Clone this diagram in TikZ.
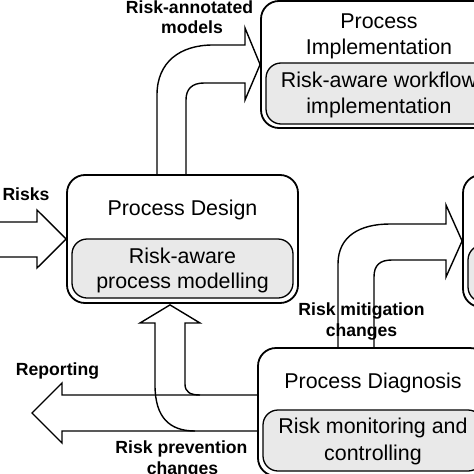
\documentclass[tikz,border=0pt]{standalone}
\usepackage{fontspec}
\setmainfont{Liberation Sans}
\usetikzlibrary{calc}
\definecolor{boxgrey}{RGB}{233,233,233}
\tikzset{
  outerbox/.style={draw, line width=1.8pt, rounded corners=18pt, inner sep=0pt, fill=white},
  innerbox/.style={draw, line width=1.3pt, rounded corners=15pt, inner sep=0pt, fill=boxgrey},
  boxtext/.style={font=\fontsize{21.4}{26}\selectfont, inner sep=0pt, anchor=base},
  lbl/.style={font=\bfseries\fontsize{17.6}{21}\selectfont, inner sep=0pt, anchor=base},
  fat/.style={line width=1.4pt, line join=miter, miter limit=20},
}
\begin{document}
\begin{tikzpicture}[x=1pt,y=-1pt]
\useasboundingbox (0,0) rectangle (474,474);
\clip (0,0) rectangle (474,474);
\fill[white] (0,0) rectangle (474,474);
% boxes
\node[outerbox, minimum width=231pt, minimum height=128pt] (design) at (182.5,239) {};
\node[innerbox, minimum width=221pt, minimum height=59pt] (designin) at (182.5,268.5) {};
\node[outerbox, minimum width=236pt, minimum height=127pt] (impl) at (379,64.5) {};
\node[innerbox, minimum width=226pt, minimum height=61pt] (implin) at (379,93.5) {};
\node[outerbox, minimum width=230pt, minimum height=128pt] (diag) at (373,412) {};
\node[innerbox, minimum width=220pt, minimum height=61pt] (diagin) at (373,440.5) {};
\node[outerbox, minimum width=230pt, minimum height=132pt] (rightbox) at (578,241) {};
\node[innerbox, minimum width=220pt, minimum height=57pt] (rightin) at (578,273.5) {};
% box texts
\node[boxtext] (designT) at (182.5,215) {Process Design};
\node[boxtext] (designA) at (182.5,263) {Risk-aware};
\node[boxtext] (designB) at (182.5,288) {process modelling};
\node[boxtext] (implT1) at (379,28) {Process};
\node[boxtext] (implT2) at (379,54) {Implementation};
\node[boxtext] (implA) at (379,87.5) {Risk-aware workflow};
\node[boxtext] (implB) at (379,113) {implementation};
\node[boxtext] (diagT) at (373,388) {Process Diagnosis};
\node[boxtext] (diagA) at (373,433) {Risk monitoring and};
\node[boxtext] (diagB) at (373,460) {controlling};
% free ends
\coordinate (riskinA) at (0,222);
\coordinate (riskinB) at (0,257);
\coordinate (reportend) at (32,413);
% Risk-annotated models
\draw[fat] ($(design.north)+(-25.5,0)$) -- (157,95) .. controls (157,62) and (180,45) .. (213,45)
  -- (245,45) -- (245,28) -- (impl.west) -- (245,100) -- (245,83) -- (204,83)
  .. controls (192,83) and (186,89) .. (186,100) -- ($(design.north)+(3.5,0)$);
% Risks
\draw[fat] (riskinA) -- (37,222) -- (37,210) -- (design.west) -- (37,268) -- (37,257) -- (riskinB);
% Risk mitigation changes
\draw[fat] ($(diag.north)+(-35,0)$) -- (338,264) .. controls (338,236) and (360,224) .. (390,224)
  -- (446,224) -- (446,205) -- (rightbox.west) -- (446,277) -- (446,260) -- (392,260)
  .. controls (380,260) and (374,265) .. (374,277) -- ($(diag.north)+(1,0)$);
% Reporting
\draw[fat] ($(diag.west)+(0,-17)$) -- (62,395) -- (62,383) -- (reportend) -- (62,443) -- (62,431) -- ($(diag.west)+(0,19)$);
% Risk prevention changes
\draw[fat] (195,431) .. controls (170,431) and (155,418) .. (155,385) -- (155,323) -- (140,323)
  -- ($(design.south)+(-12.5,1)$) -- (200,323) -- (185,323) -- (185,384)
  .. controls (185,392) and (190,395) .. (200,395);
% labels
\node[lbl] (annA) at (189.5,13) {Risk-annotated};
\node[lbl] (annB) at (192,33) {models};
\node[lbl] (risks) at (26,200) {Risks};
\node[lbl] (reporting) at (57.5,375) {Reporting};
\node[lbl] (prevA) at (181.5,453) {Risk prevention};
\node[lbl] (prevB) at (182.5,474) {changes};
\node[lbl] (mitA) at (361.5,315) {Risk mitigation};
\node[lbl] (mitB) at (361.5,336) {changes};
\end{tikzpicture}
\end{document}
